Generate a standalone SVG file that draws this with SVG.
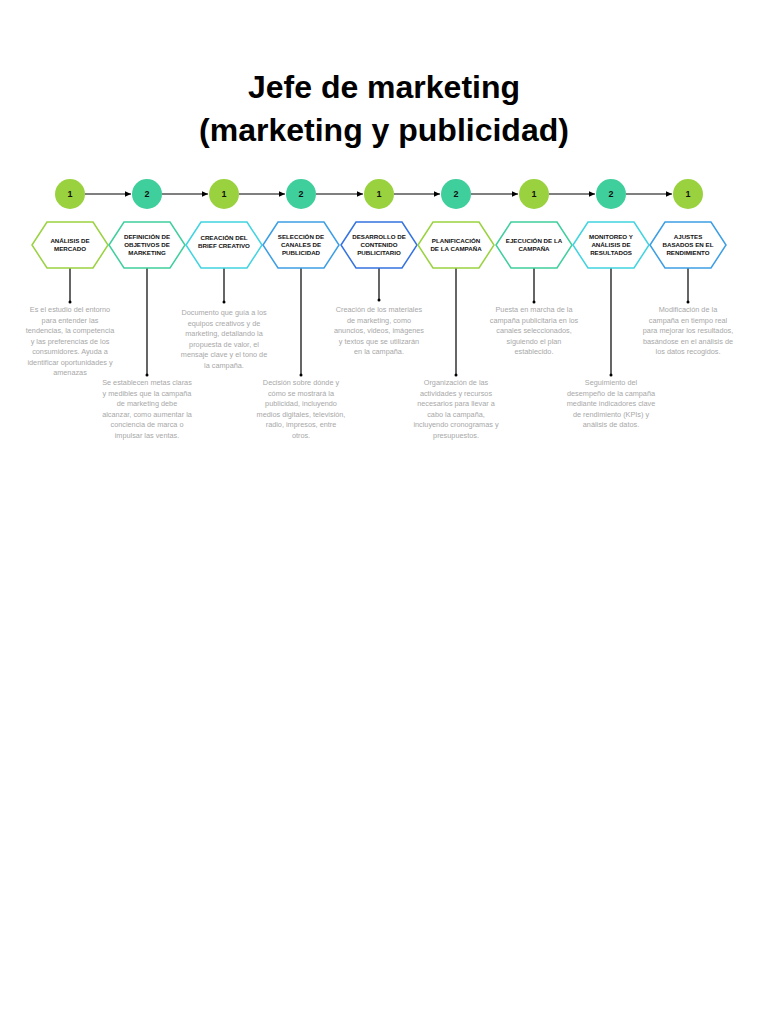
<svg xmlns="http://www.w3.org/2000/svg" width="768" height="1024" viewBox="0 0 768 1024">
<defs>
<marker id="ah" markerWidth="6" markerHeight="6" refX="5" refY="3" orient="auto"><path d="M0,0.8 L5,3 L0,5.2z" fill="#000"/></marker>
<polygon id="hx" points="-38,0 -23,-23 23,-23 38,0 23,23 -23,23"/>
</defs>
<style>
.t{font-family:"Liberation Sans",Arial,sans-serif;font-weight:bold;font-size:32px;fill:#000;text-anchor:middle}
.n{font-family:"Liberation Sans",Arial,sans-serif;font-weight:bold;font-size:9px;fill:#111;text-anchor:middle}
.h{font-family:"Liberation Sans",Arial,sans-serif;font-weight:bold;font-size:6.2px;fill:#111;text-anchor:middle}
.d{font-family:"Liberation Sans",Arial,sans-serif;font-size:7.3px;fill:#a8a8a8;text-anchor:middle}
.c1{fill:#9ad23f}.c2{fill:#3fcf9c}
use{fill:#fff;stroke-width:1.5}
.l{stroke:#000;stroke-width:1.2;fill:none}
</style>
<rect width="768" height="1024" fill="#fff"/>
<text class="t" x="384" y="98">Jefe de marketing</text>
<text class="t" x="384" y="141">(marketing y publicidad)</text>
<g id="connectors">
<line class="l" x1="85" y1="194" x2="131" y2="194" marker-end="url(#ah)"/>
<line class="l" x1="162" y1="194" x2="208" y2="194" marker-end="url(#ah)"/>
<line class="l" x1="239" y1="194" x2="285" y2="194" marker-end="url(#ah)"/>
<line class="l" x1="316" y1="194" x2="363" y2="194" marker-end="url(#ah)"/>
<line class="l" x1="394" y1="194" x2="440" y2="194" marker-end="url(#ah)"/>
<line class="l" x1="471" y1="194" x2="518" y2="194" marker-end="url(#ah)"/>
<line class="l" x1="549" y1="194" x2="595" y2="194" marker-end="url(#ah)"/>
<line class="l" x1="626" y1="194" x2="672" y2="194" marker-end="url(#ah)"/>
<path class="l" d="M70,268V302M147,268V375M224,268V302M301,268V375M379,268V300M456,268V375M534,268V302M611,268V375M688,268V302"/>
<g fill="#000"><circle cx="70" cy="302" r="1.5"/><circle cx="147" cy="375" r="1.5"/><circle cx="224" cy="302" r="1.5"/><circle cx="301" cy="375" r="1.5"/><circle cx="379" cy="300" r="1.5"/><circle cx="456" cy="375" r="1.5"/><circle cx="534" cy="302" r="1.5"/><circle cx="611" cy="375" r="1.5"/><circle cx="688" cy="302" r="1.5"/></g>
</g>
<g id="n1"><circle class="c1" cx="70" cy="194" r="15"/><text class="n" x="70" y="197">1</text>
<use href="#hx" x="70" y="245" stroke="#9ad23f"/><text class="h" x="70" y="243">ANÁLISIS DE</text><text class="h" x="70" y="251">MERCADO</text>
<text class="d" x="70" y="312">Es el estudio del entorno</text><text class="d" x="70" y="322.5">para entender las</text><text class="d" x="70" y="333">tendencias, la competencia</text><text class="d" x="70" y="343.5">y las preferencias de los</text><text class="d" x="70" y="354">consumidores. Ayuda a</text><text class="d" x="70" y="364.5">identificar oportunidades y</text><text class="d" x="70" y="375">amenazas</text></g>
<g id="n2"><circle class="c2" cx="147" cy="194" r="15"/><text class="n" x="147" y="197">2</text>
<use href="#hx" x="147" y="245" stroke="#3fcf9c"/><text class="h" x="147" y="239">DEFINICIÓN DE</text><text class="h" x="147" y="247">OBJETIVOS DE</text><text class="h" x="147" y="255">MARKETING</text>
<text class="d" x="147" y="385">Se establecen metas claras</text><text class="d" x="147" y="395.5">y medibles que la campaña</text><text class="d" x="147" y="406">de marketing debe</text><text class="d" x="147" y="416.5">alcanzar, como aumentar la</text><text class="d" x="147" y="427">conciencia de marca o</text><text class="d" x="147" y="437.5">impulsar las ventas.</text></g>
<g id="n3"><circle class="c1" cx="224" cy="194" r="15"/><text class="n" x="224" y="197">1</text>
<use href="#hx" x="224" y="245" stroke="#40d4e0"/><text class="h" x="224" y="240">CREACIÓN DEL</text><text class="h" x="224" y="248">BRIEF CREATIVO</text>
<text class="d" x="224" y="315">Documento que guía a los</text><text class="d" x="224" y="325.5">equipos creativos y de</text><text class="d" x="224" y="336">marketing, detallando la</text><text class="d" x="224" y="346.5">propuesta de valor, el</text><text class="d" x="224" y="357">mensaje clave y el tono de</text><text class="d" x="224" y="367.5">la campaña.</text></g>
<g id="n4"><circle class="c2" cx="301" cy="194" r="15"/><text class="n" x="301" y="197">2</text>
<use href="#hx" x="301" y="245" stroke="#3c9ee6"/><text class="h" x="301" y="239">SELECCIÓN DE</text><text class="h" x="301" y="247">CANALES DE</text><text class="h" x="301" y="255">PUBLICIDAD</text>
<text class="d" x="301" y="385">Decisión sobre dónde y</text><text class="d" x="301" y="395.5">cómo se mostrará la</text><text class="d" x="301" y="406">publicidad, incluyendo</text><text class="d" x="301" y="416.5">medios digitales, televisión,</text><text class="d" x="301" y="427">radio, impresos, entre</text><text class="d" x="301" y="437.5">otros.</text></g>
<g id="n5"><circle class="c1" cx="379" cy="194" r="15"/><text class="n" x="379" y="197">1</text>
<use href="#hx" x="379" y="245" stroke="#3573e0"/><text class="h" x="379" y="239">DESARROLLO DE</text><text class="h" x="379" y="247">CONTENIDO</text><text class="h" x="379" y="255">PUBLICITARIO</text>
<text class="d" x="379" y="312">Creación de los materiales</text><text class="d" x="379" y="322.5">de marketing, como</text><text class="d" x="379" y="333">anuncios, videos, imágenes</text><text class="d" x="379" y="343.5">y textos que se utilizarán</text><text class="d" x="379" y="354">en la campaña.</text></g>
<g id="n6"><circle class="c2" cx="456" cy="194" r="15"/><text class="n" x="456" y="197">2</text>
<use href="#hx" x="456" y="245" stroke="#9ad23f"/><text class="h" x="456" y="243">PLANIFICACIÓN</text><text class="h" x="456" y="251">DE LA CAMPAÑA</text>
<text class="d" x="456" y="385">Organización de las</text><text class="d" x="456" y="395.5">actividades y recursos</text><text class="d" x="456" y="406">necesarios para llevar a</text><text class="d" x="456" y="416.5">cabo la campaña,</text><text class="d" x="456" y="427">incluyendo cronogramas y</text><text class="d" x="456" y="437.5">presupuestos.</text></g>
<g id="n7"><circle class="c1" cx="534" cy="194" r="15"/><text class="n" x="534" y="197">1</text>
<use href="#hx" x="534" y="245" stroke="#3fcf9c"/><text class="h" x="534" y="243">EJECUCIÓN DE LA</text><text class="h" x="534" y="251">CAMPAÑA</text>
<text class="d" x="534" y="312">Puesta en marcha de la</text><text class="d" x="534" y="322.5">campaña publicitaria en los</text><text class="d" x="534" y="333">canales seleccionados,</text><text class="d" x="534" y="343.5">siguiendo el plan</text><text class="d" x="534" y="354">establecido.</text></g>
<g id="n8"><circle class="c2" cx="611" cy="194" r="15"/><text class="n" x="611" y="197">2</text>
<use href="#hx" x="611" y="245" stroke="#40d4e0"/><text class="h" x="611" y="239">MONITOREO Y</text><text class="h" x="611" y="247">ANÁLISIS DE</text><text class="h" x="611" y="255">RESULTADOS</text>
<text class="d" x="611" y="385">Seguimiento del</text><text class="d" x="611" y="395.5">desempeño de la campaña</text><text class="d" x="611" y="406">mediante indicadores clave</text><text class="d" x="611" y="416.5">de rendimiento (KPIs) y</text><text class="d" x="611" y="427">análisis de datos.</text></g>
<g id="n9"><circle class="c1" cx="688" cy="194" r="15"/><text class="n" x="688" y="197">1</text>
<use href="#hx" x="688" y="245" stroke="#3c9ee6"/><text class="h" x="688" y="239">AJUSTES</text><text class="h" x="688" y="247">BASADOS EN EL</text><text class="h" x="688" y="255">RENDIMIENTO</text>
<text class="d" x="688" y="312">Modificación de la</text><text class="d" x="688" y="322.5">campaña en tiempo real</text><text class="d" x="688" y="333">para mejorar los resultados,</text><text class="d" x="688" y="343.5">basándose en el análisis de</text><text class="d" x="688" y="354">los datos recogidos.</text></g>
</svg>
